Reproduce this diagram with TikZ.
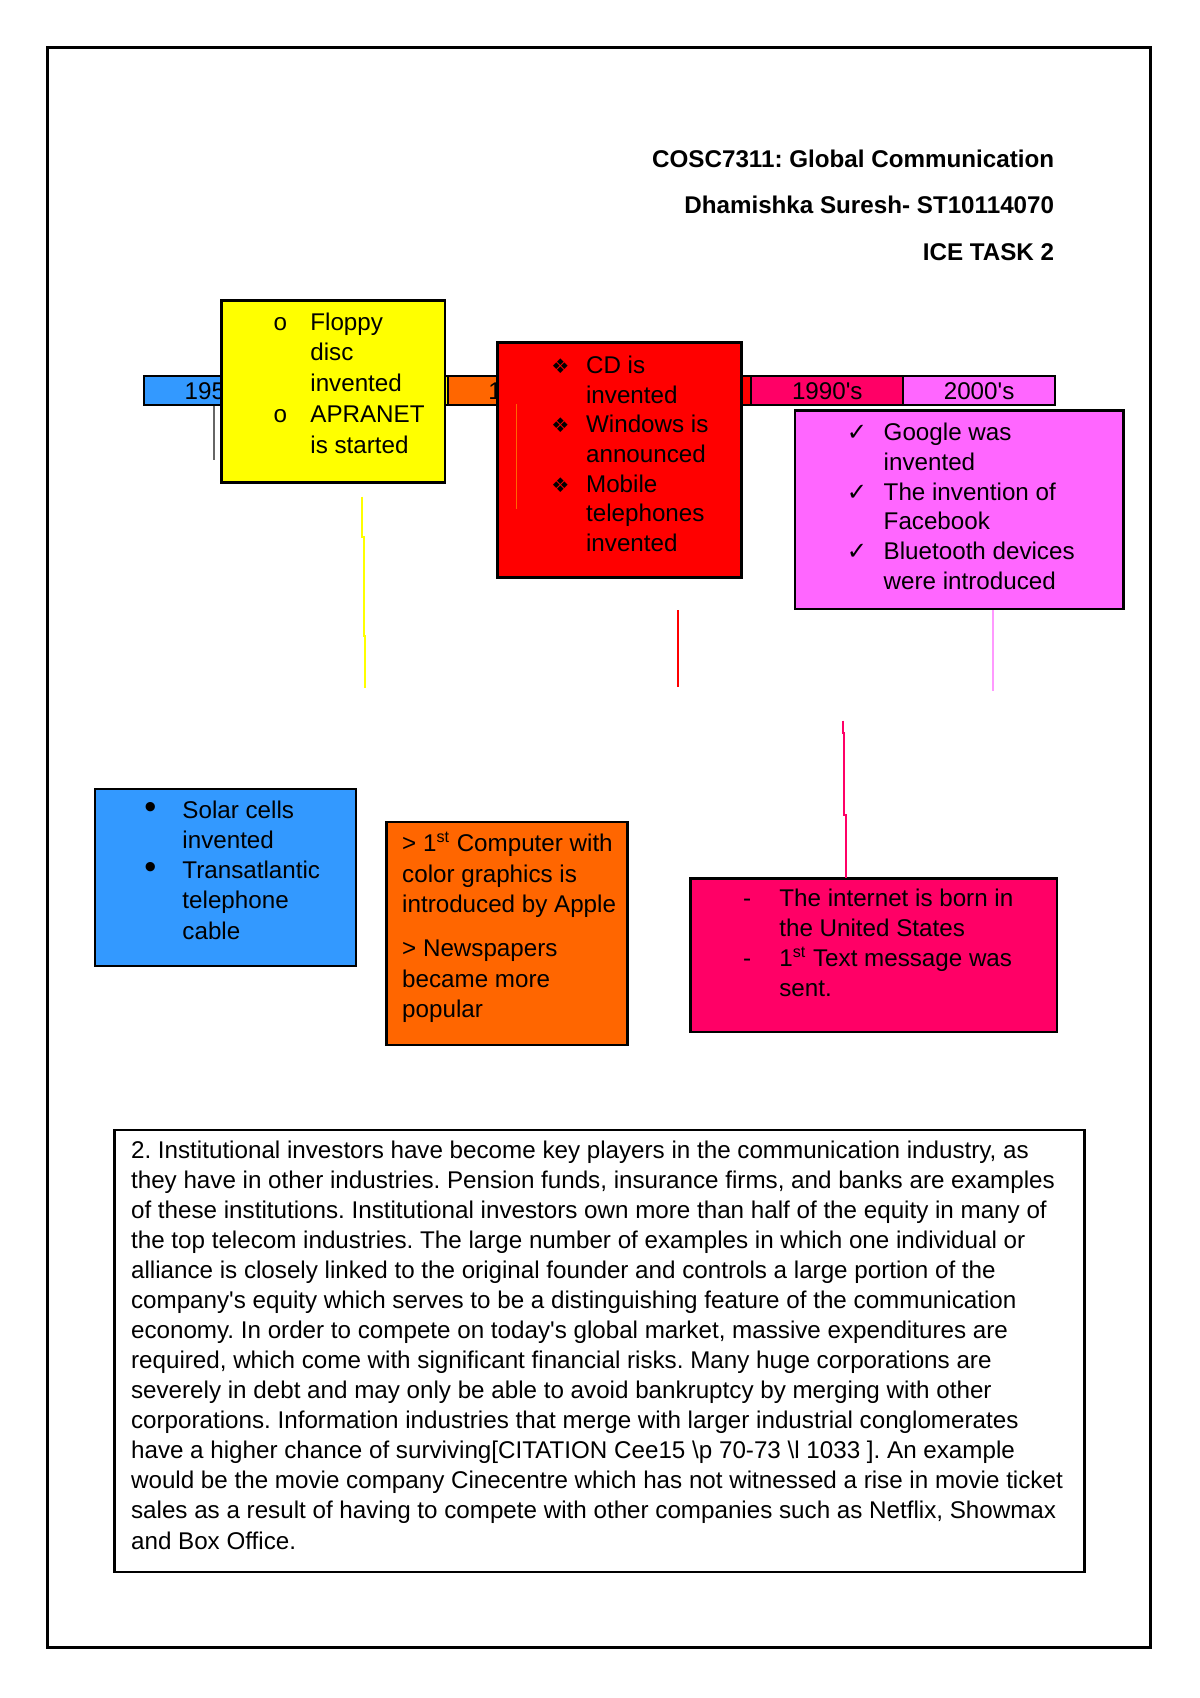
\documentclass[tikz,border=0pt]{standalone}
\usepackage{fontspec}
\setmainfont{Liberation Sans}[Ligatures=TeXOff]
\newfontfamily\dejavu{DejaVu Sans}
\usetikzlibrary{fit}
\frenchspacing
\definecolor{cblue}{HTML}{3399FF}
\definecolor{cyellow}{HTML}{FFFF00}
\definecolor{corange}{HTML}{FF6600}
\definecolor{cred}{HTML}{FF0000}
\definecolor{crose}{HTML}{FF0066}
\definecolor{cpink}{HTML}{FF66FF}
\definecolor{cpale}{HTML}{FF99FF}
\definecolor{cgrayline}{HTML}{666666}
\newcommand\bsym[1]{\makebox[0pt]{#1}}
\begin{document}
\begin{tikzpicture}[x=0.49607pt,y=-0.49607pt,
  box/.style={draw=black, line width=1.2pt, inner sep=0pt},
  seg/.style={draw=black, line width=1pt, inner sep=0pt},
  lbl/.style={inner sep=0pt, anchor=base, font=\fontsize{12}{14.9}\selectfont},
  txt/.style={inner sep=0pt, anchor=base west, align=left},
  ttl/.style={inner sep=0pt, anchor=base east, font=\bfseries\fontsize{12}{14.9}\selectfont},
  vline/.style={line width=0.9pt}]
\useasboundingbox (0,0) rectangle (1200,1698);
\fill[white] (0,0) rectangle (1200,1698);
% outer frame
\coordinate (f1) at (47.5,47.5);
\coordinate (f2) at (1150,1647);
\node[draw=black, line width=1.5pt, inner sep=0pt, fit=(f1)(f2)] (frame) {};
% titles
\node[ttl] (t1) at (1054.5,167) {COSC7311: Global Communication};
\node[ttl] (t2) at (1054.5,213) {Dhamishka Suresh- ST10114070};
\node[ttl] (t3) at (1054.5,260) {ICE TASK 2};
% timeline segments
\coordinate (s0a) at (144,376);   \coordinate (s0b) at (295.8,405);
\coordinate (s1a) at (295.8,376); \coordinate (s1b) at (447.7,405);
\coordinate (s2a) at (447.7,376); \coordinate (s2b) at (599.5,405);
\coordinate (s3a) at (599.5,376); \coordinate (s3b) at (751.3,405);
\coordinate (s4a) at (751.3,376); \coordinate (s4b) at (903.2,405);
\coordinate (s5a) at (903.2,376); \coordinate (s5b) at (1055,405);
\node[seg, fill=cblue, fit=(s0a)(s0b)] (seg50) {};
\node[seg, fill=cyellow, fit=(s1a)(s1b)] (seg60) {};
\node[seg, fill=corange, fit=(s2a)(s2b)] (seg70) {};
\node[seg, fill=cred, fit=(s3a)(s3b)] (seg80) {};
\node[seg, fill=crose, fit=(s4a)(s4b)] (seg90) {};
\node[seg, fill=cpink, fit=(s5a)(s5b)] (seg00) {};
\node[lbl] (l50) at (219.9,399) {1950's};
\node[lbl] (l70) at (523.6,399) {1970's};
\node[lbl] (l90) at (827.3,399) {1990's};
\node[lbl] (l00) at (979.1,399) {2000's};
% gray tick
\coordinate (g1) at (214,406); \coordinate (g2) at (214,460);
\draw[vline, cgrayline] (g1) -- (g2);
% yellow box
\coordinate (y1) at (221.7,300.7); \coordinate (y2) at (445,482.3);
\node[box, fill=cyellow, fit=(y1)(y2)] (ybox) {};
\node[txt, font=\fontsize{12}{15.28}\selectfont] (ytext) at (280,330)
 {\begin{tabular}[t]{@{}p{14.88pt}@{}l@{}}
  \bsym{o} & Floppy\\ & disc\\ & invented\\
  \bsym{o} & APRANET\\ & is started
 \end{tabular}};
% red box
\coordinate (r1) at (497.3,342.7); \coordinate (r2) at (741.7,577.3);
\node[box, fill=cred, fit=(r1)(r2)] (rbox) {};
\node[txt, font=\fontsize{12}{14.73}\selectfont] (rtext) at (560,373.3)
 {\begin{tabular}[t]{@{}p{12.75pt}@{}l@{}}
  \bsym{\dejavu\fontsize{10}{12}\selectfont ❖} & CD is\\ & invented\\
  \bsym{\dejavu\fontsize{10}{12}\selectfont ❖} & Windows is\\ & announced\\
  \bsym{\dejavu\fontsize{10}{12}\selectfont ❖} & Mobile\\ & telephones\\ & invented
 \end{tabular}};
\coordinate (o1) at (516.7,404); \coordinate (o2) at (516.7,509.3);
\draw[line width=0.6pt, corange] (o1) -- (o2);
% pink box
\coordinate (p1) at (795,410.7); \coordinate (p2) at (1123.3,608.7);
\node[box, fill=cpink, fit=(p1)(p2)] (pbox) {};
\node[txt, font=\fontsize{12}{14.88}\selectfont] (ptext) at (856.7,440)
 {\begin{tabular}[t]{@{}p{13.2pt}@{}l@{}}
  \bsym{\dejavu\bfseries ✓} & Google was\\ & invented\\
  \bsym{\dejavu\bfseries ✓} & The invention of\\ & Facebook\\
  \bsym{\dejavu\bfseries ✓} & Bluetooth devices\\ & were introduced
 \end{tabular}};
% vertical lines
\coordinate (ya) at (362.3,496.7); \coordinate (yb) at (365,688.3);
\draw[vline, cyellow] (ya) -- (362.3,536.7) -- (363.7,536.7) -- (363.7,635.7) -- (365,635.7) -- (yb);
\coordinate (ra) at (677.7,610); \coordinate (rb) at (677.7,686.7);
\draw[vline, cred] (ra) -- (rb);
\coordinate (pa) at (992.7,610); \coordinate (pb) at (992.7,690.7);
\draw[vline, cpale] (pa) -- (pb);
% blue box
\coordinate (b1) at (95,789); \coordinate (b2) at (356,966);
\node[box, fill=cblue, fit=(b1)(b2)] (bbox) {};
\node[txt, font=\fontsize{12}{15.03}\selectfont] (btext) at (150,818)
 {\begin{tabular}[t]{@{}p{15.9pt}@{}l@{}}
  \bsym{\fontsize{17}{15}\selectfont •} & Solar cells\\ & invented\\
  \bsym{\fontsize{17}{15}\selectfont •} & Transatlantic\\ & telephone\\ & cable
 \end{tabular}};
% orange box
\coordinate (c1) at (386.6,822); \coordinate (c2) at (627.5,1045);
\node[box, fill=corange, fit=(c1)(c2)] (obox) {};
\node[txt, font=\fontsize{12}{15.13}\selectfont] (otext) at (401.8,851.5)
 {\begin{tabular}[t]{@{}l@{}}
  > 1\textsuperscript{st} Computer with\\ color graphics is\\ introduced by Apple\\[6.9pt]
  > Newspapers\\ became more\\ popular
 \end{tabular}};
% rose box
\coordinate (m1) at (690.7,878.3); \coordinate (m2) at (1056.7,1031.7);
\node[box, fill=crose, fit=(m1)(m2)] (mbox) {};
\node[txt, font=\fontsize{12}{14.88}\selectfont] (mtext) at (746.7,906.7)
 {\begin{tabular}[t]{@{}p{16pt}@{}l@{}}
  \bsym{-} & The internet is born in\\ & the United States\\
  \bsym{-} & 1\textsuperscript{st} Text message was\\ & sent.
 \end{tabular}};
\coordinate (ma) at (842.7,720.7);
\draw[vline, crose] (ma) -- (842.7,733) -- (843.7,733) -- (843.7,815) -- (845.7,815) -- (845.7,878.3);
% paragraph box
\coordinate (q1) at (114.5,1129.7); \coordinate (q2) at (1084.5,1572);
\node[box, fill=white, fit=(q1)(q2)] (qbox) {};
\node[txt, font=\fontsize{12}{14.92}\selectfont] (qtext) at (130.7,1158)
 {\begin{tabular}[t]{@{}l@{}}
2. Institutional investors have become key players in the communication industry, as\\
they have in other industries. Pension funds, insurance firms, and banks are examples\\
of these institutions. Institutional investors own more than half of the equity in many of\\
the top telecom industries. The large number of examples in which one individual or\\
alliance is closely linked to the original founder and controls a large portion of the\\
company's equity which serves to be a distinguishing feature of the communication\\
economy. In order to compete on today's global market, massive expenditures are\\
required, which come with significant financial risks. Many huge corporations are\\
severely in debt and may only be able to avoid bankruptcy by merging with other\\
corporations. Information industries that merge with larger industrial conglomerates\\
have a higher chance of surviving[CITATION Cee15 \textbackslash p 70-73 \textbackslash l 1033 ]. An example\\
would be the movie company Cinecentre which has not witnessed a rise in movie ticket\\
sales as a result of having to compete with other companies such as Netflix, Showmax\\
and Box Office.
 \end{tabular}};
\end{tikzpicture}
\end{document}
